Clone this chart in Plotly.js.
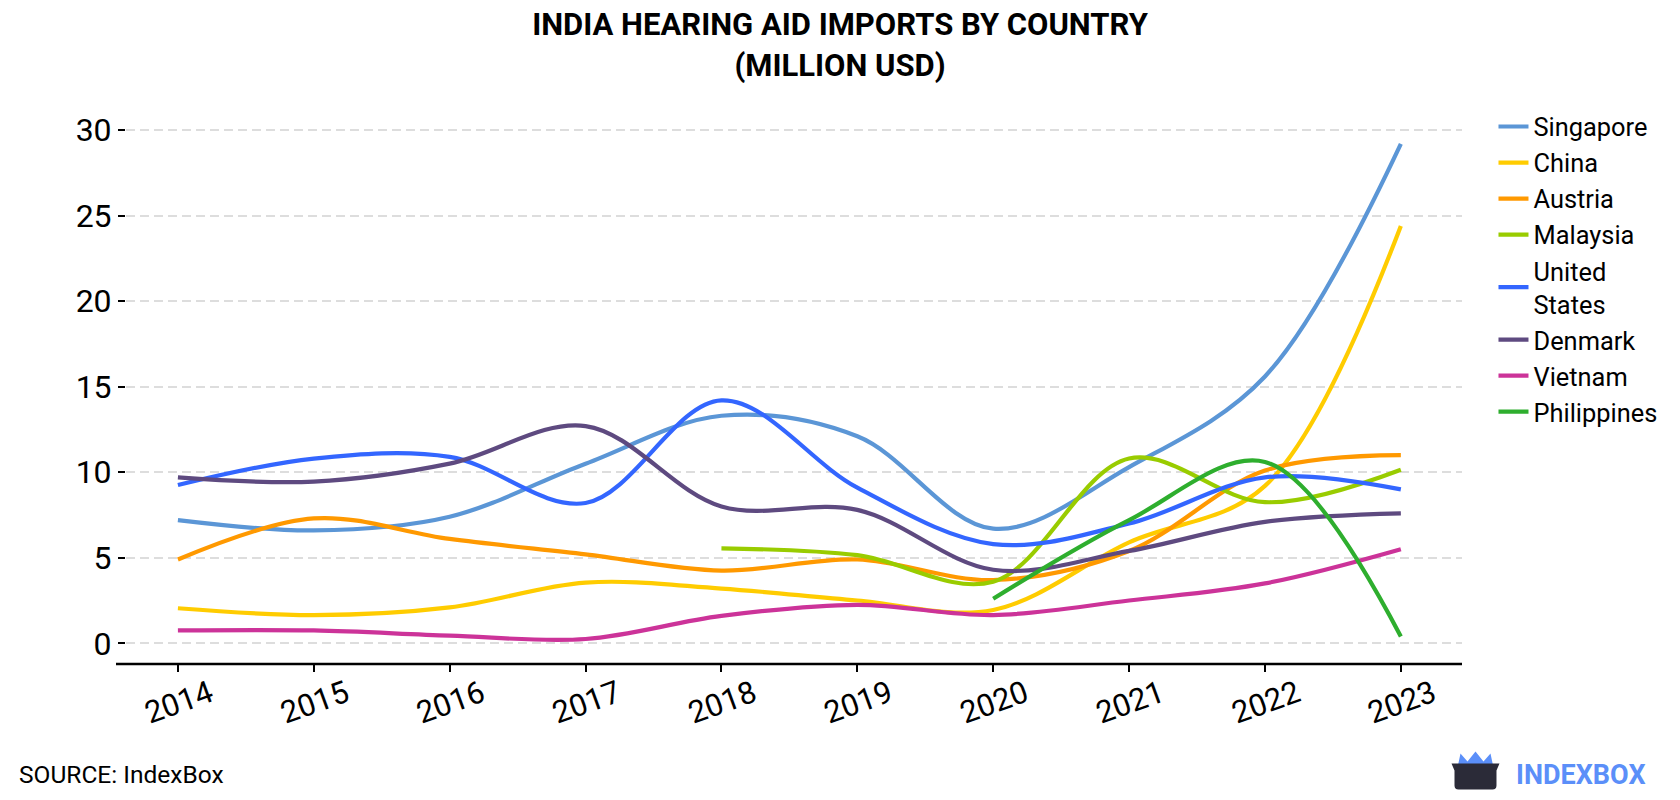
<!DOCTYPE html>
<html>
<head>
<meta charset="utf-8">
<script src="https://cdn.plot.ly/plotly-3.0.1.min.js"></script>
<style>
  html, body { margin: 0; padding: 0; background: #fff; }
  #chart { width: 1680px; height: 800px; }
</style>
</head>
<body>
<div id="chart"></div>
<script>
// ---- data ----
const years = [2014, 2015, 2016, 2017, 2018, 2019, 2020, 2021, 2022, 2023];
const seriesNames = ["Singapore", "China", "Austria", "Malaysia", "United<br>States", "Denmark", "Vietnam", "Philippines"];
const singapore   = [7.2, 6.6, 7.4, 10.5, 13.3, 12.1, 6.7, 10.3, 15.6, 29.2];
const china       = [2.05, 1.65, 2.1, 3.55, 3.2, 2.5, 1.95, 5.9, 9.2, 24.4];
const austria     = [4.9, 7.3, 6.1, 5.2, 4.25, 4.9, 3.7, 5.4, 10.1, 11.0];
const malaysia    = [null, null, null, null, 5.55, 5.15, 3.6, 10.8, 8.25, 10.15];
const unitedStates= [9.25, 10.8, 10.9, 8.2, 14.2, 9.1, 5.8, 7.0, 9.7, 9.0];
const denmark     = [9.7, 9.45, 10.5, 12.7, 8.0, 7.8, 4.3, 5.4, 7.1, 7.6];
const vietnam     = [0.75, 0.75, 0.45, 0.25, 1.6, 2.25, 1.65, 2.5, 3.5, 5.5];
const philippines = [null, null, null, null, null, null, 2.6, 7.2, 10.6, 0.4];
const yTicks = [0, 5, 10, 15, 20, 25, 30];

const seriesValues = [singapore, china, austria, malaysia, unitedStates, denmark, vietnam, philippines];
const colors = ["#5B96D6", "#FFCC00", "#FF9900", "#99CC00", "#3366FF", "#5E4A80", "#CC3399", "#2EAE2E"];

const traces = seriesValues.map((vals, i) => ({
  type: "scatter",
  mode: "lines",
  name: seriesNames[i],
  x: years,
  y: vals,
  connectgaps: false,
  line: { color: colors[i], width: 4.2, shape: "spline", smoothing: 1 },
  hoverinfo: "x+y+name"
}));

// plot area geometry (pixels)
const L = 126, R = 1462.5, T = 112.5, B = 664.3;
const W = R - L, H = B - T;
const px = x => (x - L) / W;
const py = y => (B - y) / H;

const layout = {
  width: 1680,
  height: 800,
  paper_bgcolor: "#ffffff",
  plot_bgcolor: "#ffffff",
  margin: { l: L, r: 1680 - R, t: T, b: 800 - B, pad: 0 },
  font: { family: "Roboto, 'Open Sans', sans-serif", color: "#000000" },
  title: {
    text: "<b>INDIA HEARING AID IMPORTS BY COUNTRY<br>(MILLION USD)</b>",
    font: { family: "Roboto, sans-serif", size: 31, color: "#000000" },
    x: 0.5, xref: "container", xanchor: "center",
    y: 0.956, yref: "container", yanchor: "middle"
  },
  showlegend: true,
  legend: {
    x: px(1494), xanchor: "left",
    y: py(103), yanchor: "top",
    font: { family: "Roboto, sans-serif", size: 25.4, color: "#000000" },
    bgcolor: "rgba(0,0,0,0)",
    tracegroupgap: 0,
    itemwidth: 30
  },
  xaxis: {
    range: [2013.618, 2023.45],
    tickmode: "array",
    tickvals: years,
    ticktext: years.map(String),
    tickangle: -20,
    ticklabelshift: 32,
    ticklabelstandoff: -8,
    tickfont: { family: "Roboto, sans-serif", size: 31, color: "#000000" },
    ticks: "outside", ticklen: 7, tickwidth: 2, tickcolor: "#000000",
    showline: false,
    showgrid: false,
    zeroline: false,
    fixedrange: true
  },
  yaxis: {
    range: [-1.21, 31],
    tickmode: "array",
    tickvals: yTicks,
    ticktext: yTicks.map(String),
    tickfont: { family: "Roboto, sans-serif", size: 32, color: "#000000" },
    ticks: "outside", ticklen: 7, tickwidth: 2, tickcolor: "#000000",
    showline: false,
    showgrid: true, gridcolor: "#dddddd", gridwidth: 2, griddash: "9px,5px",
    zeroline: false,
    fixedrange: true
  },
  shapes: [
    // x axis baseline, extending slightly left of plot area
    { type: "line", xref: "paper", yref: "paper", x0: px(116), x1: 1, y0: 0, y1: 0,
      line: { color: "#000000", width: 2.5 }, layer: "above" },
    // logo icon: crown
    { type: "path", xref: "paper", yref: "paper",
      path: `M ${px(1458)},${py(768)} L ${px(1461)},${py(754)} L ${px(1468)},${py(762)} L ${px(1476)},${py(752)} L ${px(1484)},${py(762)} L ${px(1491)},${py(754)} L ${px(1494)},${py(768)} Z`,
      fillcolor: "#5B8FF9", line: { width: 0 } },
    // logo icon: body
    { type: "path", xref: "paper", yref: "paper",
      path: `M ${px(1452)},${py(764)} L ${px(1500)},${py(764)} L ${px(1497)},${py(771)} L ${px(1497)},${py(786)} Q ${px(1497)},${py(790)} ${px(1493)},${py(790)} L ${px(1459)},${py(790)} Q ${px(1455)},${py(790)} ${px(1455)},${py(786)} L ${px(1455)},${py(771)} Z`,
      fillcolor: "#2B2B38", line: { width: 0 } }
  ],
  annotations: [
    { text: "SOURCE: IndexBox", xref: "paper", yref: "paper",
      x: px(17), y: py(775), xanchor: "left", yanchor: "middle", showarrow: false,
      font: { family: "Roboto, sans-serif", size: 24.5, color: "#000000" } },
    { text: "<b>INDEXBOX</b>", xref: "paper", yref: "paper",
      x: px(1515), y: py(775), xanchor: "left", yanchor: "middle", showarrow: false,
      font: { family: "Roboto, sans-serif", size: 27, color: "#5B8FF9" } }
  ]
};

Plotly.newPlot("chart", traces, layout, { displayModeBar: false, staticPlot: true });
</script>
</body>
</html>
